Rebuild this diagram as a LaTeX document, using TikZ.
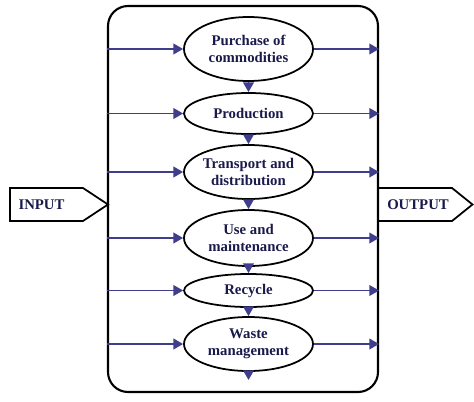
\documentclass[tikz,border=0pt]{standalone}
\usepackage{fontspec}
\setmainfont{Liberation Serif}
\usetikzlibrary{arrows.meta,shapes.geometric}

\definecolor{flowblue}{RGB}{62,62,140}
\definecolor{txtblue}{RGB}{25,25,75}

\tikzset{
  stage/.style={ellipse,draw,line width=1pt,minimum width=2.58cm,inner sep=0pt,
    align=center,text=txtblue,font=\bfseries\fontsize{8.4}{9.8}\selectfont},
  label/.style={text=txtblue,font=\bfseries\fontsize{8.4}{9.8}\selectfont},
  flow/.style={->,draw=flowblue,fill=flowblue,line width=1.1pt}
}

\begin{document}
\begin{tikzpicture}[>={Triangle[length=5.5pt,width=6pt]}]
 \useasboundingbox (0,0) rectangle (9.48,8.02);
 % frame
 \node (box) [draw,line width=1.2pt,rounded corners=0.4cm,minimum width=5.4cm,
   minimum height=7.72cm] at (4.86,4.04) {};
 % stages
 \node (buy)   [stage,minimum height=1.28cm] at (4.97,7.04) {Purchase of\\commodities};
 \node (make)  [stage,minimum height=0.82cm] at (4.97,5.75) {Production};
 \node (ship)  [stage,minimum height=1.08cm] at (4.97,4.58) {Transport and\\distribution};
 \node (use)   [stage,minimum height=1.12cm] at (4.97,3.26) {Use and\\maintenance};
 \node (recyc) [stage,minimum height=0.66cm] at (4.97,2.21) {Recycle};
 \node (waste) [stage,minimum height=1.08cm] at (4.97,1.14) {Waste\\management};
 \coordinate (end) at (4.97,0.42);
 % in and out
 \draw [line width=1pt] (0.2,3.60) -- (0.2,4.26) -- (1.66,4.26) -- (2.16,3.93)
   -- (1.66,3.60) -- cycle;
 \node (in) [label] at (0.83,3.93) {INPUT};
 \draw [line width=1pt] (7.56,3.60) -- (7.56,4.26) -- (9.04,4.26) -- (9.45,3.93)
   -- (9.04,3.60) -- cycle;
 \node (out) [label] at (8.36,3.93) {OUTPUT};
 % flows
 \foreach \s in {buy,make,ship,use,recyc,waste} {
   \draw [flow] (box.west |- \s) -- (\s.west);
   \draw [flow] (\s.east) -- (box.east |- \s);
 }
 \draw [flow] (buy) -- (make);
 \draw [flow] (make) -- (ship);
 \draw [flow] (ship) -- (use);
 \draw [flow] (use) -- (recyc);
 \draw [flow] (recyc) -- (waste);
 \draw [flow] (waste) -- (end);
\end{tikzpicture}
\end{document}
